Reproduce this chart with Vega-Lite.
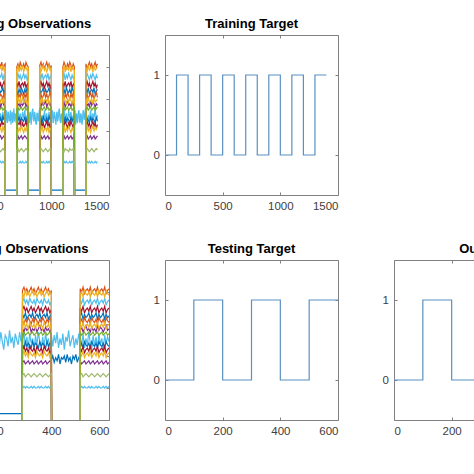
{
  "$schema": "https://vega.github.io/schema/vega-lite/v6.json",
  "autosize": {"type": "none"},
  "padding": {"left": -64, "top": 35, "right": 600, "bottom": 500},
  "background": "white",
  "config": {
    "font": "Liberation Sans",
    "view": {"stroke": "#808080", "strokeWidth": 1},
    "title": {"fontSize": 13, "fontWeight": "bold", "color": "#000000", "baseline": "alphabetic", "offset": 4, "frame": "group", "anchor": "middle"},
    "axis": {"domain": false, "grid": false, "ticks": true, "tickSize": -3, "tickColor": "#808080", "tickWidth": 1, "labelFontSize": 11.5, "labelColor": "#404040", "labelPadding": 8.5, "labelFont": "Liberation Sans"}
  },
  "datasets": {
    "trainObs": [
      {"x":500,"a":82,"b":77,"c":75,"d":68,"e":66,"f":61,"g":60,"h":56,"i":54,"j":52,"k":46,"l":45,"m":40,"n":37,"o":28,"p":20},
      {"x":510,"a":80,"b":80,"c":73,"d":70,"e":64,"f":63,"g":58,"h":58,"i":55,"j":46,"k":48,"l":43,"m":42,"n":35,"o":29,"p":21},
      {"x":520,"a":83,"b":78,"c":76,"d":67,"e":65,"f":60,"g":61,"h":55,"i":53,"j":50,"k":45,"l":46,"m":39,"n":36,"o":27,"p":20},
      {"x":530,"a":79,"b":81,"c":72,"d":69,"e":67,"f":62,"g":57,"h":57,"i":54,"j":45,"k":49,"l":44,"m":43,"n":37,"o":28,"p":21},
      {"x":540,"a":81,"b":77,"c":75,"d":71,"e":63,"f":64,"g":59,"h":56,"i":55,"j":53,"k":47,"l":42,"m":40,"n":35,"o":29,"p":20},
      {"x":550,"a":82,"b":79,"c":73,"d":68,"e":66,"f":61,"g":60,"h":59,"i":53,"j":48,"k":46,"l":45,"m":41,"n":36,"o":28,"p":20},
      {"x":560,"a":80,"b":80,"c":74,"d":70,"e":64,"f":63,"g":58,"h":55,"i":54,"j":51,"k":48,"l":43,"m":42,"n":37,"o":27,"p":21},
      {"x":570,"a":83,"b":78,"c":76,"d":67,"e":65,"f":62,"g":61,"h":57,"i":55,"j":46,"k":45,"l":46,"m":39,"n":35,"o":28,"p":20},
      {"x":580,"a":79,"b":81,"c":72,"d":69,"e":67,"f":60,"g":57,"h":58,"i":53,"j":52,"k":49,"l":44,"m":43,"n":36,"o":29,"p":21},
      {"x":590,"a":81,"b":78,"c":75,"d":71,"e":63,"f":64,"g":60,"h":56,"i":54,"j":47,"k":47,"l":45,"m":40,"n":37,"o":28,"p":20},
      {"x":600,"a":82,"b":80,"c":73,"d":68,"e":66,"f":61,"g":58,"h":57,"i":55,"j":50,"k":46,"l":42,"m":42,"n":35,"o":27,"p":21},
      {"x":601,"a":-20,"b":-20,"c":-20,"d":-20,"e":-20,"f":-20,"g":-20,"h":-20,"i":-20,"j":48,"k":3,"l":-20,"m":-20,"n":-20,"o":-20,"p":-20},
      {"x":605,"j":45},{"x":610,"j":53},{"x":615,"j":49},{"x":620,"j":45},{"x":625,"j":52},{"x":630,"j":51},{"x":635,"j":46},{"x":640,"j":47},{"x":645,"j":53},{"x":650,"j":44},
      {"x":655,"j":50},{"x":660,"j":52},{"x":665,"j":45},{"x":670,"j":49},{"x":675,"j":54},{"x":680,"j":46},{"x":685,"j":51},{"x":690,"j":50},{"x":695,"j":45},
      {"x":699,"a":-20,"b":-20,"c":-20,"d":-20,"e":-20,"f":-20,"g":-20,"h":-20,"i":-20,"j":47,"k":3,"l":-20,"m":-20,"n":-20,"o":-20,"p":-20},
      {"x":700,"a":80,"b":78,"c":74,"d":70,"e":65,"f":62,"g":59,"h":58,"i":54,"j":49,"k":48,"l":43,"m":41,"n":36,"o":28,"p":21},
      {"x":710,"a":82,"b":81,"c":76,"d":68,"e":63,"f":60,"g":61,"h":56,"i":55,"j":54,"k":46,"l":45,"m":39,"n":37,"o":29,"p":20},
      {"x":720,"a":79,"b":77,"c":73,"d":71,"e":66,"f":63,"g":58,"h":57,"i":53,"j":47,"k":49,"l":44,"m":42,"n":35,"o":27,"p":20},
      {"x":730,"a":83,"b":80,"c":75,"d":67,"e":64,"f":61,"g":60,"h":55,"i":54,"j":51,"k":45,"l":46,"m":40,"n":36,"o":28,"p":21},
      {"x":740,"a":81,"b":78,"c":72,"d":69,"e":67,"f":64,"g":57,"h":58,"i":55,"j":45,"k":48,"l":42,"m":43,"n":37,"o":29,"p":20},
      {"x":750,"a":80,"b":81,"c":74,"d":70,"e":65,"f":62,"g":61,"h":56,"i":53,"j":52,"k":47,"l":45,"m":41,"n":35,"o":28,"p":21},
      {"x":760,"a":82,"b":77,"c":76,"d":68,"e":63,"f":60,"g":59,"h":57,"i":54,"j":48,"k":46,"l":43,"m":39,"n":36,"o":27,"p":20},
      {"x":770,"a":79,"b":79,"c":73,"d":71,"e":66,"f":63,"g":58,"h":59,"i":55,"j":53,"k":49,"l":44,"m":42,"n":37,"o":28,"p":20},
      {"x":780,"a":83,"b":80,"c":75,"d":67,"e":64,"f":61,"g":60,"h":55,"i":53,"j":46,"k":45,"l":46,"m":40,"n":36,"o":29,"p":21},
      {"x":790,"a":81,"b":78,"c":72,"d":69,"e":67,"f":64,"g":57,"h":57,"i":54,"j":50,"k":48,"l":42,"m":43,"n":35,"o":28,"p":20},
      {"x":800,"a":80,"b":79,"c":74,"d":70,"e":65,"f":62,"g":59,"h":56,"i":55,"j":47,"k":47,"l":45,"m":41,"n":37,"o":27,"p":21},
      {"x":801,"a":-20,"b":-20,"c":-20,"d":-20,"e":-20,"f":-20,"g":-20,"h":-20,"i":-20,"j":49,"k":3,"l":-20,"m":-20,"n":-20,"o":-20,"p":-20},
      {"x":805,"j":52},{"x":810,"j":45},{"x":815,"j":50},{"x":820,"j":52},{"x":825,"j":44},{"x":830,"j":48},{"x":835,"j":53},{"x":840,"j":54},{"x":845,"j":47},{"x":850,"j":46},
      {"x":855,"j":52},{"x":860,"j":50},{"x":865,"j":45},{"x":870,"j":44},{"x":875,"j":51},{"x":880,"j":51},{"x":885,"j":46},{"x":890,"j":47},{"x":895,"j":53},
      {"x":899,"a":-20,"b":-20,"c":-20,"d":-20,"e":-20,"f":-20,"g":-20,"h":-20,"i":-20,"j":50,"k":3,"l":-20,"m":-20,"n":-20,"o":-20,"p":-20},
      {"x":900,"a":81,"b":80,"c":75,"d":69,"e":66,"f":61,"g":60,"h":57,"i":54,"j":52,"k":46,"l":44,"m":42,"n":36,"o":28,"p":20},
      {"x":910,"a":83,"b":77,"c":73,"d":71,"e":64,"f":63,"g":58,"h":55,"i":55,"j":46,"k":48,"l":46,"m":40,"n":37,"o":29,"p":21},
      {"x":920,"a":80,"b":79,"c":76,"d":68,"e":65,"f":60,"g":61,"h":58,"i":53,"j":50,"k":45,"l":43,"m":43,"n":35,"o":28,"p":20},
      {"x":930,"a":82,"b":81,"c":72,"d":70,"e":67,"f":62,"g":57,"h":56,"i":54,"j":44,"k":49,"l":45,"m":39,"n":36,"o":27,"p":21},
      {"x":940,"a":79,"b":78,"c":74,"d":67,"e":63,"f":64,"g":59,"h":57,"i":55,"j":53,"k":47,"l":42,"m":41,"n":37,"o":28,"p":20},
      {"x":950,"a":81,"b":80,"c":75,"d":69,"e":66,"f":61,"g":60,"h":59,"i":53,"j":47,"k":46,"l":44,"m":42,"n":35,"o":29,"p":20},
      {"x":960,"a":83,"b":77,"c":73,"d":71,"e":64,"f":63,"g":58,"h":55,"i":54,"j":51,"k":48,"l":46,"m":40,"n":36,"o":28,"p":21},
      {"x":970,"a":80,"b":79,"c":76,"d":68,"e":65,"f":60,"g":61,"h":57,"i":55,"j":45,"k":45,"l":43,"m":43,"n":37,"o":27,"p":20},
      {"x":980,"a":82,"b":81,"c":72,"d":70,"e":67,"f":62,"g":57,"h":58,"i":53,"j":52,"k":49,"l":45,"m":39,"n":35,"o":28,"p":21},
      {"x":990,"a":79,"b":78,"c":74,"d":67,"e":63,"f":64,"g":59,"h":56,"i":54,"j":48,"k":47,"l":42,"m":41,"n":36,"o":29,"p":20},
      {"x":1000,"a":81,"b":80,"c":75,"d":69,"e":66,"f":61,"g":60,"h":57,"i":55,"j":50,"k":46,"l":44,"m":42,"n":37,"o":28,"p":21},
      {"x":1001,"a":-20,"b":-20,"c":-20,"d":-20,"e":-20,"f":-20,"g":-20,"h":-20,"i":-20,"j":47,"k":3,"l":-20,"m":-20,"n":-20,"o":-20,"p":-20},
      {"x":1005,"j":51},{"x":1010,"j":53},{"x":1015,"j":45},{"x":1020,"j":46},{"x":1025,"j":52},{"x":1030,"j":50},{"x":1035,"j":47},{"x":1040,"j":44},{"x":1045,"j":51},{"x":1050,"j":52},
      {"x":1055,"j":46},{"x":1060,"j":48},{"x":1065,"j":53},{"x":1070,"j":54},{"x":1075,"j":47},{"x":1080,"j":45},{"x":1085,"j":50},{"x":1090,"j":51},{"x":1095,"j":45},
      {"x":1099,"a":-20,"b":-20,"c":-20,"d":-20,"e":-20,"f":-20,"g":-20,"h":-20,"i":-20,"j":48,"k":3,"l":-20,"m":-20,"n":-20,"o":-20,"p":-20},
      {"x":1100,"a":80,"b":78,"c":74,"d":70,"e":64,"f":62,"g":58,"h":56,"i":54,"j":49,"k":47,"l":45,"m":41,"n":36,"o":28,"p":20},
      {"x":1110,"a":83,"b":81,"c":76,"d":68,"e":66,"f":60,"g":61,"h":58,"i":55,"j":54,"k":45,"l":43,"m":43,"n":37,"o":27,"p":21},
      {"x":1120,"a":81,"b":77,"c":72,"d":71,"e":63,"f":63,"g":59,"h":55,"i":53,"j":46,"k":49,"l":46,"m":39,"n":35,"o":29,"p":20},
      {"x":1130,"a":79,"b":80,"c":75,"d":67,"e":67,"f":61,"g":57,"h":57,"i":54,"j":51,"k":46,"l":44,"m":42,"n":36,"o":28,"p":21},
      {"x":1140,"a":82,"b":79,"c":73,"d":69,"e":65,"f":64,"g":60,"h":59,"i":55,"j":45,"k":48,"l":42,"m":40,"n":37,"o":28,"p":20},
      {"x":1150,"a":80,"b":78,"c":76,"d":70,"e":64,"f":62,"g":58,"h":56,"i":53,"j":53,"k":47,"l":45,"m":43,"n":35,"o":27,"p":20},
      {"x":1160,"a":83,"b":81,"c":74,"d":68,"e":66,"f":60,"g":61,"h":57,"i":54,"j":48,"k":45,"l":43,"m":41,"n":36,"o":29,"p":21},
      {"x":1170,"a":81,"b":77,"c":72,"d":71,"e":63,"f":63,"g":59,"h":55,"i":55,"j":52,"k":49,"l":46,"m":39,"n":37,"o":28,"p":20},
      {"x":1180,"a":79,"b":80,"c":75,"d":67,"e":67,"f":61,"g":57,"h":58,"i":53,"j":46,"k":46,"l":44,"m":42,"n":35,"o":28,"p":21},
      {"x":1190,"a":82,"b":79,"c":73,"d":69,"e":65,"f":64,"g":60,"h":56,"i":54,"j":50,"k":48,"l":42,"m":40,"n":36,"o":29,"p":20},
      {"x":1200,"a":80,"b":78,"c":74,"d":70,"e":64,"f":62,"g":58,"h":57,"i":55,"j":47,"k":47,"l":45,"m":43,"n":37,"o":27,"p":21},
      {"x":1201,"a":-20,"b":-20,"c":-20,"d":-20,"e":-20,"f":-20,"g":-20,"h":-20,"i":-20,"j":49,"k":3,"l":-20,"m":-20,"n":-20,"o":-20,"p":-20},
      {"x":1205,"j":53},{"x":1210,"j":44},{"x":1215,"j":49},{"x":1220,"j":51},{"x":1225,"j":45},{"x":1230,"j":47},{"x":1235,"j":52},{"x":1240,"j":53},{"x":1245,"j":46},{"x":1250,"j":45},
      {"x":1255,"j":51},{"x":1260,"j":50},{"x":1265,"j":44},{"x":1270,"j":46},{"x":1275,"j":53},{"x":1280,"j":52},{"x":1285,"j":47},{"x":1290,"j":48},{"x":1295,"j":54},
      {"x":1299,"a":-20,"b":-20,"c":-20,"d":-20,"e":-20,"f":-20,"g":-20,"h":-20,"i":-20,"j":51,"k":3,"l":-20,"m":-20,"n":-20,"o":-20,"p":-20},
      {"x":1300,"a":82,"b":80,"c":73,"d":69,"e":66,"f":61,"g":60,"h":58,"i":54,"j":52,"k":46,"l":44,"m":41,"n":36,"o":28,"p":20},
      {"x":1310,"a":79,"b":77,"c":76,"d":71,"e":64,"f":63,"g":57,"h":56,"i":55,"j":45,"k":48,"l":46,"m":43,"n":37,"o":29,"p":21},
      {"x":1320,"a":81,"b":81,"c":74,"d":68,"e":67,"f":60,"g":61,"h":57,"i":53,"j":50,"k":47,"l":43,"m":40,"n":35,"o":28,"p":20},
      {"x":1330,"a":83,"b":78,"c":72,"d":70,"e":63,"f":62,"g":58,"h":55,"i":54,"j":47,"k":45,"l":45,"m":42,"n":36,"o":27,"p":21},
      {"x":1340,"a":80,"b":79,"c":75,"d":67,"e":65,"f":64,"g":59,"h":59,"i":55,"j":53,"k":49,"l":42,"m":39,"n":37,"o":28,"p":20},
      {"x":1350,"a":82,"b":80,"c":73,"d":69,"e":66,"f":61,"g":60,"h":56,"i":53,"j":46,"k":46,"l":44,"m":41,"n":35,"o":29,"p":21},
      {"x":1360,"a":79,"b":77,"c":76,"d":71,"e":64,"f":63,"g":57,"h":58,"i":54,"j":51,"k":48,"l":46,"m":43,"n":36,"o":28,"p":20},
      {"x":1370,"a":81,"b":81,"c":74,"d":68,"e":67,"f":60,"g":61,"h":57,"i":55,"j":48,"k":47,"l":43,"m":40,"n":37,"o":27,"p":20},
      {"x":1380,"a":83,"b":78,"c":72,"d":70,"e":63,"f":62,"g":58,"h":55,"i":53,"j":54,"k":45,"l":45,"m":42,"n":35,"o":28,"p":21},
      {"x":1390,"a":80,"b":79,"c":75,"d":67,"e":65,"f":64,"g":59,"h":57,"i":54,"j":47,"k":49,"l":42,"m":41,"n":36,"o":29,"p":20},
      {"x":1400,"a":82,"b":80,"c":73,"d":69,"e":66,"f":61,"g":60,"h":56,"i":55,"j":50,"k":46,"l":44,"m":43,"n":37,"o":28,"p":21}
    ],
    "testObs": [
      {"x":220,"j":47,"k":4},{"x":225,"j":55},{"x":230,"j":49},{"x":235,"j":44},{"x":240,"j":53},{"x":245,"j":51},{"x":250,"j":46},{"x":255,"j":56},
      {"x":260,"j":48},{"x":265,"j":52},{"x":270,"j":45},{"x":275,"j":54},{"x":280,"j":50},{"x":285,"j":47},{"x":290,"j":55},{"x":295,"j":49},
      {"x":299,"a":-20,"b":-20,"c":-20,"d":-20,"e":-20,"f":-20,"g":-20,"h":-20,"i":-20,"j":51,"k":4,"l":-20,"m":-20,"n":-20,"o":-20,"p":-20},
      {"x":300,"a":81,"b":79,"c":74,"d":69,"e":66,"f":62,"g":59,"h":57,"i":54,"j":50,"k":47,"l":44,"m":41,"n":36,"o":28,"p":20},
      {"x":305,"a":83,"b":77,"c":76,"d":71,"e":64,"f":60,"g":61,"h":55,"i":55,"j":55,"k":45,"l":46,"m":43,"n":37,"o":29,"p":21},
      {"x":310,"a":80,"b":81,"c":73,"d":68,"e":67,"f":63,"g":58,"h":58,"i":53,"j":46,"k":49,"l":43,"m":40,"n":35,"o":27,"p":20},
      {"x":315,"a":82,"b":78,"c":75,"d":70,"e":63,"f":61,"g":60,"h":56,"i":54,"j":52,"k":46,"l":45,"m":42,"n":36,"o":28,"p":21},
      {"x":320,"a":79,"b":80,"c":72,"d":67,"e":65,"f":64,"g":57,"h":57,"i":55,"j":45,"k":48,"l":42,"m":39,"n":37,"o":29,"p":20},
      {"x":325,"a":81,"b":77,"c":76,"d":69,"e":66,"f":62,"g":61,"h":59,"i":53,"j":54,"k":47,"l":46,"m":43,"n":35,"o":28,"p":20},
      {"x":330,"a":83,"b":79,"c":74,"d":71,"e":64,"f":60,"g":59,"h":55,"i":54,"j":48,"k":45,"l":44,"m":41,"n":36,"o":27,"p":21},
      {"x":335,"a":80,"b":81,"c":73,"d":68,"e":67,"f":63,"g":58,"h":57,"i":55,"j":51,"k":49,"l":43,"m":40,"n":37,"o":28,"p":20},
      {"x":340,"a":82,"b":78,"c":75,"d":70,"e":63,"f":61,"g":60,"h":56,"i":53,"j":44,"k":46,"l":45,"m":42,"n":35,"o":29,"p":21},
      {"x":345,"a":79,"b":80,"c":72,"d":67,"e":65,"f":64,"g":57,"h":58,"i":54,"j":53,"k":48,"l":42,"m":39,"n":36,"o":28,"p":20},
      {"x":350,"a":81,"b":77,"c":76,"d":69,"e":66,"f":62,"g":61,"h":55,"i":55,"j":47,"k":47,"l":46,"m":43,"n":37,"o":27,"p":20},
      {"x":355,"a":83,"b":79,"c":74,"d":71,"e":64,"f":60,"g":59,"h":57,"i":53,"j":55,"k":45,"l":44,"m":41,"n":35,"o":28,"p":21},
      {"x":360,"a":80,"b":81,"c":73,"d":68,"e":67,"f":63,"g":58,"h":59,"i":54,"j":49,"k":49,"l":43,"m":40,"n":36,"o":29,"p":20},
      {"x":365,"a":82,"b":78,"c":75,"d":70,"e":63,"f":61,"g":60,"h":56,"i":55,"j":45,"k":46,"l":45,"m":42,"n":37,"o":28,"p":21},
      {"x":370,"a":79,"b":80,"c":72,"d":67,"e":65,"f":64,"g":57,"h":57,"i":53,"j":52,"k":48,"l":42,"m":39,"n":35,"o":27,"p":20},
      {"x":375,"a":81,"b":77,"c":76,"d":69,"e":66,"f":62,"g":61,"h":55,"i":54,"j":46,"k":47,"l":46,"m":43,"n":36,"o":28,"p":20},
      {"x":380,"a":83,"b":79,"c":74,"d":71,"e":64,"f":60,"g":59,"h":58,"i":55,"j":54,"k":45,"l":44,"m":41,"n":37,"o":29,"p":21},
      {"x":385,"a":80,"b":81,"c":73,"d":68,"e":67,"f":63,"g":58,"h":56,"i":53,"j":48,"k":49,"l":43,"m":40,"n":35,"o":28,"p":20},
      {"x":390,"a":82,"b":78,"c":75,"d":70,"e":63,"f":61,"g":60,"h":57,"i":54,"j":51,"k":46,"l":45,"m":42,"n":36,"o":27,"p":21},
      {"x":395,"a":79,"b":80,"c":72,"d":67,"e":65,"f":64,"g":57,"h":55,"i":55,"j":44,"k":48,"l":42,"m":39,"n":37,"o":28,"p":20},
      {"x":400,"a":81,"b":79,"c":74,"d":69,"e":66,"f":62,"g":61,"h":57,"i":54,"j":50,"k":47,"l":44,"m":41,"n":36,"o":29,"p":21},
      {"x":401,"a":-20,"b":-20,"c":-20,"d":-20,"e":-20,"f":-20,"g":-20,"h":-20,"i":-20,"j":52,"k":38,"l":-20,"m":-20,"n":-20,"o":-20,"p":-20},
      {"x":405,"j":46,"k":40},{"x":410,"j":53,"k":36},{"x":415,"j":48,"k":39},{"x":420,"j":55,"k":37},{"x":425,"j":45,"k":41},
      {"x":430,"j":51,"k":35},{"x":435,"j":47,"k":39},{"x":440,"j":54,"k":38},{"x":445,"j":44,"k":40},{"x":450,"j":52,"k":36},
      {"x":455,"j":49,"k":41},{"x":460,"j":56,"k":37},{"x":465,"j":46,"k":39},{"x":470,"j":50,"k":35},{"x":475,"j":53,"k":40},
      {"x":480,"j":45,"k":38},{"x":485,"j":51,"k":41},{"x":490,"j":47,"k":36},{"x":495,"j":54,"k":39},
      {"x":499,"a":-20,"b":-20,"c":-20,"d":-20,"e":-20,"f":-20,"g":-20,"h":-20,"i":-20,"j":49,"k":38,"l":-20,"m":-20,"n":-20,"o":-20,"p":-20},
      {"x":500,"a":82,"b":78,"c":75,"d":70,"e":65,"f":61,"g":60,"h":56,"i":55,"j":52,"k":46,"l":45,"m":42,"n":37,"o":28,"p":20},
      {"x":505,"a":80,"b":80,"c":73,"d":68,"e":67,"f":63,"g":58,"h":58,"i":53,"j":46,"k":48,"l":43,"m":40,"n":35,"o":29,"p":21},
      {"x":510,"a":83,"b":77,"c":76,"d":71,"e":63,"f":60,"g":61,"h":55,"i":54,"j":54,"k":45,"l":46,"m":43,"n":36,"o":27,"p":20},
      {"x":515,"a":79,"b":81,"c":72,"d":67,"e":66,"f":64,"g":57,"h":57,"i":55,"j":45,"k":49,"l":42,"m":39,"n":37,"o":28,"p":21},
      {"x":520,"a":81,"b":79,"c":74,"d":69,"e":64,"f":62,"g":59,"h":59,"i":53,"j":51,"k":47,"l":44,"m":41,"n":35,"o":29,"p":20},
      {"x":525,"a":82,"b":78,"c":75,"d":70,"e":65,"f":61,"g":60,"h":56,"i":54,"j":47,"k":46,"l":45,"m":42,"n":36,"o":28,"p":20},
      {"x":530,"a":80,"b":80,"c":73,"d":68,"e":67,"f":63,"g":58,"h":57,"i":55,"j":55,"k":48,"l":43,"m":40,"n":37,"o":27,"p":21},
      {"x":535,"a":83,"b":77,"c":76,"d":71,"e":63,"f":60,"g":61,"h":55,"i":53,"j":48,"k":45,"l":46,"m":43,"n":35,"o":28,"p":20},
      {"x":540,"a":79,"b":81,"c":72,"d":67,"e":66,"f":64,"g":57,"h":58,"i":54,"j":44,"k":49,"l":42,"m":39,"n":36,"o":29,"p":21},
      {"x":545,"a":81,"b":79,"c":74,"d":69,"e":64,"f":62,"g":59,"h":56,"i":55,"j":53,"k":47,"l":44,"m":41,"n":37,"o":28,"p":20},
      {"x":550,"a":82,"b":78,"c":75,"d":70,"e":65,"f":61,"g":60,"h":57,"i":53,"j":46,"k":46,"l":45,"m":42,"n":35,"o":27,"p":20},
      {"x":555,"a":80,"b":80,"c":73,"d":68,"e":67,"f":63,"g":58,"h":55,"i":54,"j":52,"k":48,"l":43,"m":40,"n":36,"o":28,"p":21},
      {"x":560,"a":83,"b":77,"c":76,"d":71,"e":63,"f":60,"g":61,"h":59,"i":55,"j":45,"k":45,"l":46,"m":43,"n":37,"o":29,"p":20},
      {"x":565,"a":79,"b":81,"c":72,"d":67,"e":66,"f":64,"g":57,"h":56,"i":53,"j":54,"k":49,"l":42,"m":39,"n":35,"o":28,"p":21},
      {"x":570,"a":81,"b":79,"c":74,"d":69,"e":64,"f":62,"g":59,"h":58,"i":54,"j":47,"k":47,"l":44,"m":41,"n":36,"o":27,"p":20},
      {"x":575,"a":82,"b":78,"c":75,"d":70,"e":65,"f":61,"g":60,"h":57,"i":55,"j":51,"k":46,"l":45,"m":42,"n":37,"o":28,"p":20},
      {"x":580,"a":80,"b":80,"c":73,"d":68,"e":67,"f":63,"g":58,"h":55,"i":53,"j":44,"k":48,"l":43,"m":40,"n":35,"o":29,"p":21},
      {"x":585,"a":83,"b":77,"c":76,"d":71,"e":63,"f":60,"g":61,"h":57,"i":54,"j":53,"k":45,"l":46,"m":43,"n":36,"o":28,"p":20},
      {"x":590,"a":79,"b":81,"c":72,"d":67,"e":66,"f":64,"g":57,"h":59,"i":55,"j":48,"k":49,"l":42,"m":39,"n":37,"o":27,"p":21},
      {"x":595,"a":81,"b":79,"c":74,"d":69,"e":64,"f":62,"g":59,"h":56,"i":53,"j":52,"k":47,"l":44,"m":41,"n":35,"o":28,"p":20},
      {"x":600,"a":82,"b":78,"c":75,"d":70,"e":65,"f":61,"g":60,"h":57,"i":54,"j":49,"k":46,"l":45,"m":42,"n":36,"o":29,"p":21}
    ],
    "trainTarget": [
      {"x":0,"y":0},{"x":100,"y":1},{"x":200,"y":0},{"x":300,"y":1},{"x":400,"y":0},{"x":500,"y":1},{"x":600,"y":0},{"x":700,"y":1},
      {"x":800,"y":0},{"x":900,"y":1},{"x":1000,"y":0},{"x":1100,"y":1},{"x":1200,"y":0},{"x":1300,"y":1},{"x":1400,"y":1}
    ],
    "testTarget": [
      {"x":0,"y":0},{"x":100,"y":1},{"x":200,"y":0},{"x":300,"y":1},{"x":400,"y":0},{"x":500,"y":1},{"x":600,"y":1}
    ],
    "output": [
      {"x":0,"y":0},{"x":100,"y":1},{"x":200,"y":0},{"x":300,"y":1},{"x":400,"y":0},{"x":500,"y":1},{"x":600,"y":1}
    ]
  },
  "spacing": 11,
  "bounds": "full",
  "vconcat": [
    {
      "spacing": 56,
      "bounds": "flush",
      "hconcat": [
        {
          "width": 173, "height": 160,
          "title": "Training Observations",
          "data": {"name": "trainObs"},
          "transform": [{"fold": ["j","a","c","d","e","f","h","k","l","n","p","b","g","m","i","o"], "as": ["feature","value"]}],
          "layer": [
            {
              "mark": {"type": "line", "strokeWidth": 1.2, "clip": true, "invalid": "filter"},
              "encoding": {
                "x": {"field": "x", "type": "quantitative", "title": null, "scale": {"domain": [0,1500], "nice": false}, "axis": {"orient": "bottom", "values": [0,500,1000,1500], "format": "d"}},
                "y": {"field": "value", "type": "quantitative", "title": null, "scale": {"domain": [0,100], "nice": false}, "axis": {"orient": "left", "values": [20,40,60,80], "format": "d"}},
                "color": {"field": "feature", "type": "nominal", "legend": null,
                  "scale": {"domain": ["a","b","c","d","e","f","g","h","i","j","k","l","m","n","o","p"],
                            "range": ["#D95319","#EDB120","#4DBEEE","#A2142F","#0072BD","#D95319","#EDB120","#7E2F8E","#77AC30","#4DBEEE","#0072BD","#A2142F","#EDB120","#7E2F8E","#9DB86A","#4DBEEE"]}}
              }
            },
            {
              "mark": {"type": "point", "opacity": 0},
              "encoding": {
                "x": {"field": "x", "type": "quantitative", "title": null, "axis": {"orient": "top", "values": [0,500,1000,1500], "labels": false}},
                "y": {"field": "value", "type": "quantitative", "title": null, "axis": {"orient": "right", "values": [20,40,60,80], "labels": false}}
              }
            }
          ]
        },
        {
          "width": 173, "height": 160,
          "title": "Training Target",
          "data": {"name": "trainTarget"},
          "layer": [
            {
              "mark": {"type": "line", "interpolate": "step-after", "color": "#5a91c2", "strokeWidth": 1.2},
              "encoding": {
                "x": {"field": "x", "type": "quantitative", "title": null, "scale": {"domain": [0,1500], "nice": false}, "axis": {"orient": "bottom", "values": [0,500,1000,1500], "format": "d"}},
                "y": {"field": "y", "type": "quantitative", "title": null, "scale": {"domain": [-0.5,1.5], "nice": false}, "axis": {"orient": "left", "values": [0,1], "format": "d"}}
              }
            },
            {
              "mark": {"type": "point", "opacity": 0},
              "encoding": {
                "x": {"field": "x", "type": "quantitative", "title": null, "axis": {"orient": "top", "values": [0,500,1000,1500], "labels": false}},
                "y": {"field": "y", "type": "quantitative", "title": null, "axis": {"orient": "right", "values": [0,1], "labels": false}}
              }
            }
          ]
        }
      ]
    },
    {
      "spacing": 56,
      "bounds": "flush",
      "hconcat": [
        {
          "width": 173, "height": 160,
          "title": "Testing Observations",
          "data": {"name": "testObs"},
          "transform": [{"fold": ["j","a","c","d","e","f","h","k","l","n","p","b","g","m","i","o"], "as": ["feature","value"]}],
          "layer": [
            {
              "mark": {"type": "line", "strokeWidth": 1.2, "clip": true, "invalid": "filter"},
              "encoding": {
                "x": {"field": "x", "type": "quantitative", "title": null, "scale": {"domain": [0,600], "nice": false}, "axis": {"orient": "bottom", "values": [0,200,400,600], "format": "d"}},
                "y": {"field": "value", "type": "quantitative", "title": null, "scale": {"domain": [0,100], "nice": false}, "axis": {"orient": "left", "values": [20,40,60,80], "format": "d"}},
                "color": {"field": "feature", "type": "nominal", "legend": null,
                  "scale": {"domain": ["a","b","c","d","e","f","g","h","i","j","k","l","m","n","o","p"],
                            "range": ["#D95319","#EDB120","#4DBEEE","#A2142F","#0072BD","#D95319","#EDB120","#7E2F8E","#77AC30","#4DBEEE","#0072BD","#A2142F","#EDB120","#7E2F8E","#9DB86A","#4DBEEE"]}}
              }
            },
            {
              "mark": {"type": "point", "opacity": 0},
              "encoding": {
                "x": {"field": "x", "type": "quantitative", "title": null, "axis": {"orient": "top", "values": [0,200,400,600], "labels": false}},
                "y": {"field": "value", "type": "quantitative", "title": null, "axis": {"orient": "right", "values": [20,40,60,80], "labels": false}}
              }
            }
          ]
        },
        {
          "width": 173, "height": 160,
          "title": "Testing Target",
          "data": {"name": "testTarget"},
          "layer": [
            {
              "mark": {"type": "line", "interpolate": "step-after", "color": "#5a91c2", "strokeWidth": 1.2},
              "encoding": {
                "x": {"field": "x", "type": "quantitative", "title": null, "scale": {"domain": [0,600], "nice": false}, "axis": {"orient": "bottom", "values": [0,200,400,600], "format": "d"}},
                "y": {"field": "y", "type": "quantitative", "title": null, "scale": {"domain": [-0.5,1.5], "nice": false}, "axis": {"orient": "left", "values": [0,1], "format": "d"}}
              }
            },
            {
              "mark": {"type": "point", "opacity": 0},
              "encoding": {
                "x": {"field": "x", "type": "quantitative", "title": null, "axis": {"orient": "top", "values": [0,200,400,600], "labels": false}},
                "y": {"field": "y", "type": "quantitative", "title": null, "axis": {"orient": "right", "values": [0,1], "labels": false}}
              }
            }
          ]
        },
        {
          "width": 173, "height": 160,
          "title": "Output",
          "data": {"name": "output"},
          "layer": [
            {
              "mark": {"type": "line", "interpolate": "step-after", "color": "#5a91c2", "strokeWidth": 1.2},
              "encoding": {
                "x": {"field": "x", "type": "quantitative", "title": null, "scale": {"domain": [0,600], "nice": false}, "axis": {"orient": "bottom", "values": [0,200,400,600], "format": "d"}},
                "y": {"field": "y", "type": "quantitative", "title": null, "scale": {"domain": [-0.5,1.5], "nice": false}, "axis": {"orient": "left", "values": [0,1], "format": "d"}}
              }
            },
            {
              "mark": {"type": "point", "opacity": 0},
              "encoding": {
                "x": {"field": "x", "type": "quantitative", "title": null, "axis": {"orient": "top", "values": [0,200,400,600], "labels": false}},
                "y": {"field": "y", "type": "quantitative", "title": null, "axis": {"orient": "right", "values": [0,1], "labels": false}}
              }
            }
          ]
        }
      ]
    }
  ]
}
